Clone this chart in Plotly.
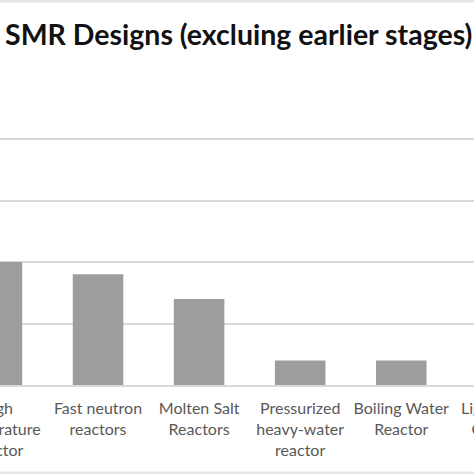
import plotly.graph_objects as go

# visible part of the chart (left and right sides are cropped in the source)
categories = ['High<br>Temperature<br>Reactor', 'Fast neutron<br>reactors', 'Molten Salt<br>Reactors',
              'Pressurized<br>heavy-water<br>reactor', 'Boiling Water<br>Reactor']
values = [10, 9, 7, 2, 2]
cut_label = 'Light Water<br>Graphite<br>Reactor'
title_text = 'SMR Designs (excluing earlier stages)'
y_ticks = [0, 5, 10, 15, 20, 25]

x_range = [0.03, 4.72]
label_font = dict(family='Lato', size=16, color='#595959')

fig = go.Figure()

fig.add_trace(go.Bar(
    x=list(range(len(categories))),
    y=values,
    marker=dict(color='#9d9d9d', line=dict(width=0)),
    width=0.5,
))

fig.update_xaxes(
    range=x_range,
    tickmode='array',
    tickvals=list(range(len(categories))),
    ticktext=categories,
    tickfont=label_font,
    ticklabelstandoff=8,
    showgrid=False,
    showline=True,
    linecolor='#d9d9d9',
    linewidth=1.5,
    ticks='',
    zeroline=False,
)
fig.update_yaxes(
    range=[0, 25.05],
    tickvals=y_ticks,
    showticklabels=False,
    gridcolor='#d9d9d9',
    gridwidth=1.5,
    zeroline=False,
)

def to_paper(i):
    return (i - x_range[0]) / (x_range[1] - x_range[0])

# labels of the two categories whose ticks fall outside the visible range
for i, txt in [(0, categories[0]), (5, cut_label)]:
    fig.add_annotation(x=to_paper(i), y=-11 / 308, xref='paper', yref='paper', text=txt,
                       showarrow=False, xanchor='center', yanchor='top', align='center',
                       font=label_font)

fig.add_annotation(x=3 / 474, y=1 + (77 - 34) / 308, xref='paper', yref='paper',
                   text='<b>' + title_text + '</b>',
                   showarrow=False, xanchor='left', yanchor='middle',
                   font=dict(family='Lato', size=28.5, color='#111111'))

# faint frame lines at top and bottom of the crop
fig.add_shape(type='line', xref='paper', yref='paper', x0=-0.1, x1=1.1,
              y0=1 + 76 / 308, y1=1 + 76 / 308, line=dict(color='#e4e4ea', width=3))
fig.add_shape(type='line', xref='paper', yref='paper', x0=-0.1, x1=1.1,
              y0=-88 / 308, y1=-88 / 308, line=dict(color='#e4e4ea', width=3))

fig.update_layout(
    width=474,
    height=474,
    margin=dict(l=0, r=0, t=77, b=89),
    plot_bgcolor='white',
    paper_bgcolor='white',
    showlegend=False,
)

fig.write_html("out.html", config={'displayModeBar': False},
               post_script="document.body.style.margin='0';")
